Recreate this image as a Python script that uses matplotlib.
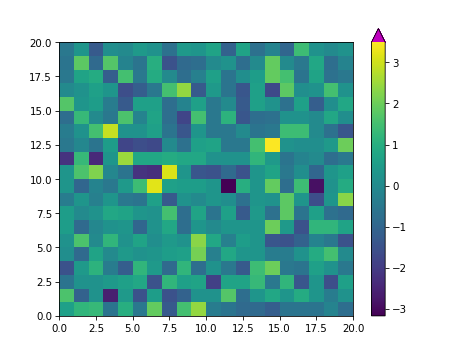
import numpy as np
import matplotlib
matplotlib.use("Agg")
import matplotlib.pyplot as plt

# rows listed from top (y=19) to bottom (y=0), columns x=0..19
rows_top_to_bottom = [
    [-0.5, 0.3, -1.3, 0.1, 0.0, 0.4, 0.2, -0.7, 0.4, 0.3,   0.7, -1.1, 0.7, -0.7, -0.2, -1.0, 1.4, 0.2, 0.0, 0.2],
    [-0.6, 1.8, -0.9, 1.7, -0.2, -0.6, 1.0, -1.5, -0.9, -0.8,  0.0, 0.2, -0.8, 0.0, 1.9, 0.0, -0.5, 0.8, -0.8, -0.2],
    [-0.5, 0.7, 0.9, -1.2, 1.5, -0.5, 0.9, 0.0, -0.8, -0.3,  0.6, -0.6, 0.1, 0.5, 1.9, 1.5, -0.6, 0.7, -0.7, -0.5],
    [0.0, 0.2, 0.6, 0.3, -1.6, -1.2, -0.5, 1.5, 2.4, -1.3,  0.4, -0.6, -1.4, 0.6, -1.7, 1.8, 0.1, 0.2, 1.5, 0.2],
    [1.7, 0.3, 0.5, -0.4, -1.3, 0.6, 0.6, -0.8, -0.2, 0.6,  -0.5, 0.0, -1.3, 0.6, 0.2, -0.7, 0.6, -1.2, 0.1, 0.8],
    [-0.8, 1.3, 0.0, -0.5, 1.6, -0.2, 0.7, -0.8, -1.8, 1.5,  -0.5, 1.1, -1.4, -0.8, -0.7, 0.2, 0.2, 0.0, 0.8, 0.1],
    [-0.4, 0.2, 1.5, 2.9, 0.2, 0.2, 0.6, -0.6, -1.4, 0.3,  -0.5, -0.5, 0.0, -0.6, -0.5, 1.4, 1.4, 0.0, -0.7, -1.4],
    [-0.5, -0.1, -0.6, 0.5, -1.8, -1.6, -1.7, 0.0, -0.7, 0.6,  0.7, -0.5, -0.5, 1.5, 3.45, 0.2, 0.1, 0.1, 0.4, 2.0],
    [-2.2, 1.3, -2.4, 0.3, 2.5, 0.8, 0.8, 0.9, 0.8, 0.8,  0.2, 0.2, 0.2, 1.2, 0.4, -0.6, -0.2, 0.0, -0.8, -0.5],
    [0.3, 1.6, 2.2, -0.1, -0.6, -2.2, -2.3, 3.1, 0.3, -1.4,  -1.5, -0.9, -1.5, 0.3, 0.7, -0.5, 0.1, -1.0, 0.3, 0.6],
    [0.3, -1.0, -0.2, -0.5, 0.4, 1.4, 3.2, 0.6, 0.5, 0.5,  0.3, -3.15, 1.0, 0.3, 1.9, -0.8, 1.4, -2.9, 0.2, 0.9],
    [-0.4, 0.3, -0.3, 0.3, -0.5, -0.6, 0.6, -1.3, 0.2, 0.0,  0.3, 0.1, -0.7, 0.3, 0.2, 1.8, 0.3, -1.6, 0.3, 2.3],
    [0.5, 0.0, 0.2, 0.8, 0.7, 0.3, 0.2, 1.5, -0.8, 0.7,  -0.6, 0.6, -1.3, 0.4, -0.7, 1.8, -0.6, 0.6, -0.7, -0.9],
    [0.5, -0.9, -0.1, 0.2, 0.3, -1.0, 0.2, 0.8, -0.8, 0.3,  0.0, 0.3, 0.3, 0.3, 2.0, 0.4, -1.5, 1.2, 1.2, 0.7],
    [0.2, 1.6, 0.0, 1.2, 0.2, 0.7, 0.1, 0.4, 0.2, 2.3,  0.8, -0.3, 0.5, 0.3, -1.4, -1.5, -1.1, -0.2, -0.5, -1.5],
    [0.1, -0.9, 0.7, 0.0, 0.4, 0.2, 0.3, 0.5, 0.6, 2.1,  -0.3, 0.8, 0.3, 0.3, -0.4, -0.4, 0.2, 0.9, 1.5, 0.0],
    [-1.5, 0.4, 1.1, -0.4, -1.2, 1.2, 0.4, -0.9, 1.2, -0.8,  0.2, -0.5, -1.3, 1.4, 2.0, -0.5, -0.6, 0.6, 0.2, -0.5],
    [-0.6, 0.2, 0.2, 0.4, 0.6, 0.8, -1.5, 1.2, 0.6, 0.7,  -1.9, 0.7, 0.7, 1.3, -0.5, 1.2, -1.4, 0.3, -1.6, 0.6],
    [1.6, -1.1, 0.2, -2.6, 0.4, -1.5, 0.5, -1.5, -1.1, 0.2,  0.2, 1.7, -0.8, 0.3, 0.8, 0.3, 0.9, 0.3, -0.4, 0.2],
    [0.6, 1.2, 1.3, -0.6, 1.0, -0.5, 1.9, -1.3, 1.5, 2.4,  -0.4, -0.6, -0.9, -0.9, -1.2, -0.6, -0.6, -0.6, -0.2, -0.8],
]
x_edges = np.arange(0, 21)
y_edges = np.arange(0, 21)
vmin, vmax = -3.17, 3.49

Z = np.array(rows_top_to_bottom)[::-1]

fig, ax = plt.subplots(figsize=(6.4, 4.8), dpi=474 / 6.4)
cmap = plt.get_cmap('viridis').with_extremes(over='m')
pc = ax.pcolormesh(x_edges, y_edges, Z, cmap=cmap, vmin=vmin, vmax=vmax)
cbar = fig.colorbar(pc, ax=ax, extend='max')
# interior of colorbar spans the full axes height, triangle drawn above
cbar.ax.set_axes_locator(None)
fig.savefig('out.png', dpi=474 / 6.4)
